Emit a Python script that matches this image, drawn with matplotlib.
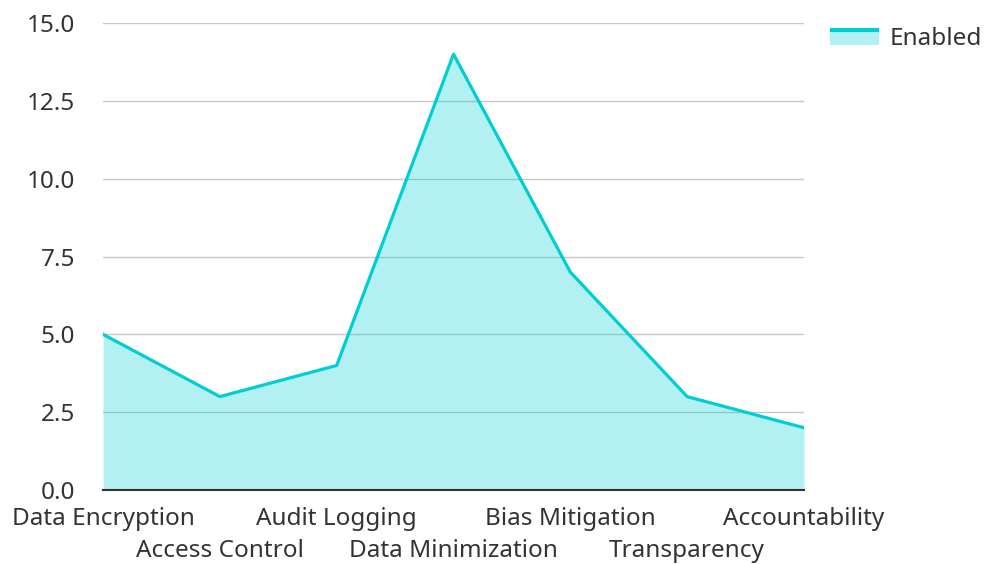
import matplotlib

matplotlib.use("Agg")
import matplotlib.pyplot as plt
from matplotlib.legend_handler import HandlerBase
from matplotlib.lines import Line2D
from matplotlib.patches import Rectangle

categories = [
    "Data Encryption",
    "Access Control",
    "Audit Logging",
    "Data Minimization",
    "Bias Mitigation",
    "Transparency",
    "Accountability",
]
enabled = [5, 3, 4, 14, 7, 3, 2]
yticks = [0, 2.5, 5, 7.5, 10, 12.5, 15]

LINE = "#00CED1"
TEXT = "#333333"
FS = 17.5

plt.rcParams["font.family"] = ["Noto Sans", "DejaVu Sans"]


class AreaHandler(HandlerBase):
    def create_artists(self, legend, orig, xd, yd, w, h, fontsize, trans):
        rect = Rectangle((xd, yd), w, h, facecolor=LINE, alpha=0.3,
                         edgecolor="none", transform=trans)
        line = Line2D([xd, xd + w], [yd + h - 1.2, yd + h - 1.2], color=LINE,
                      linewidth=3, solid_capstyle="butt", transform=trans)
        return [rect, line]


fig = plt.figure(figsize=(9.85, 5.64), dpi=100)
ax = fig.add_axes([0.1046, 0.1312, 0.7116, 0.828])

x = list(range(len(categories)))
area = ax.fill_between(x, enabled, 0, color=LINE, alpha=0.3, linewidth=0,
                       label="Enabled")
ax.plot(x, enabled, color=LINE, linewidth=2.3)

ax.set_xlim(0, len(categories) - 1)
ax.set_ylim(0, 15)
ax.set_yticks(yticks)
ax.set_yticklabels([f"{v:.1f}" for v in yticks])
# staggered category labels: even ones on the first row, odd ones below
ax.set_xticks(x[0::2], categories[0::2])
ax.set_xticks(x[1::2], categories[1::2], minor=True)

ax.grid(axis="y", color="#c8c8c8", linewidth=1)
ax.set_axisbelow(True)
for s in ["left", "right", "top"]:
    ax.spines[s].set_visible(False)
ax.spines["bottom"].set_color(TEXT)
ax.spines["bottom"].set_linewidth(1.5)
ax.spines["bottom"].set_zorder(5)
ax.tick_params(axis="both", which="both", length=0, labelsize=FS,
               labelcolor=TEXT)
ax.tick_params(axis="y", pad=20)
ax.tick_params(axis="x", which="major", pad=12.5)
ax.tick_params(axis="x", which="minor", pad=35.5)

fig.legend(handles=[area], labels=["Enabled"], loc="upper left",
           bbox_to_anchor=(0.8426, 0.952), frameon=False, fontsize=FS,
           labelcolor=TEXT, handler_map={area: AreaHandler()},
           borderpad=0, borderaxespad=0,
           handlelength=2.0, handleheight=0.7, handletextpad=0.45)

fig.savefig("out.png", dpi=100)
